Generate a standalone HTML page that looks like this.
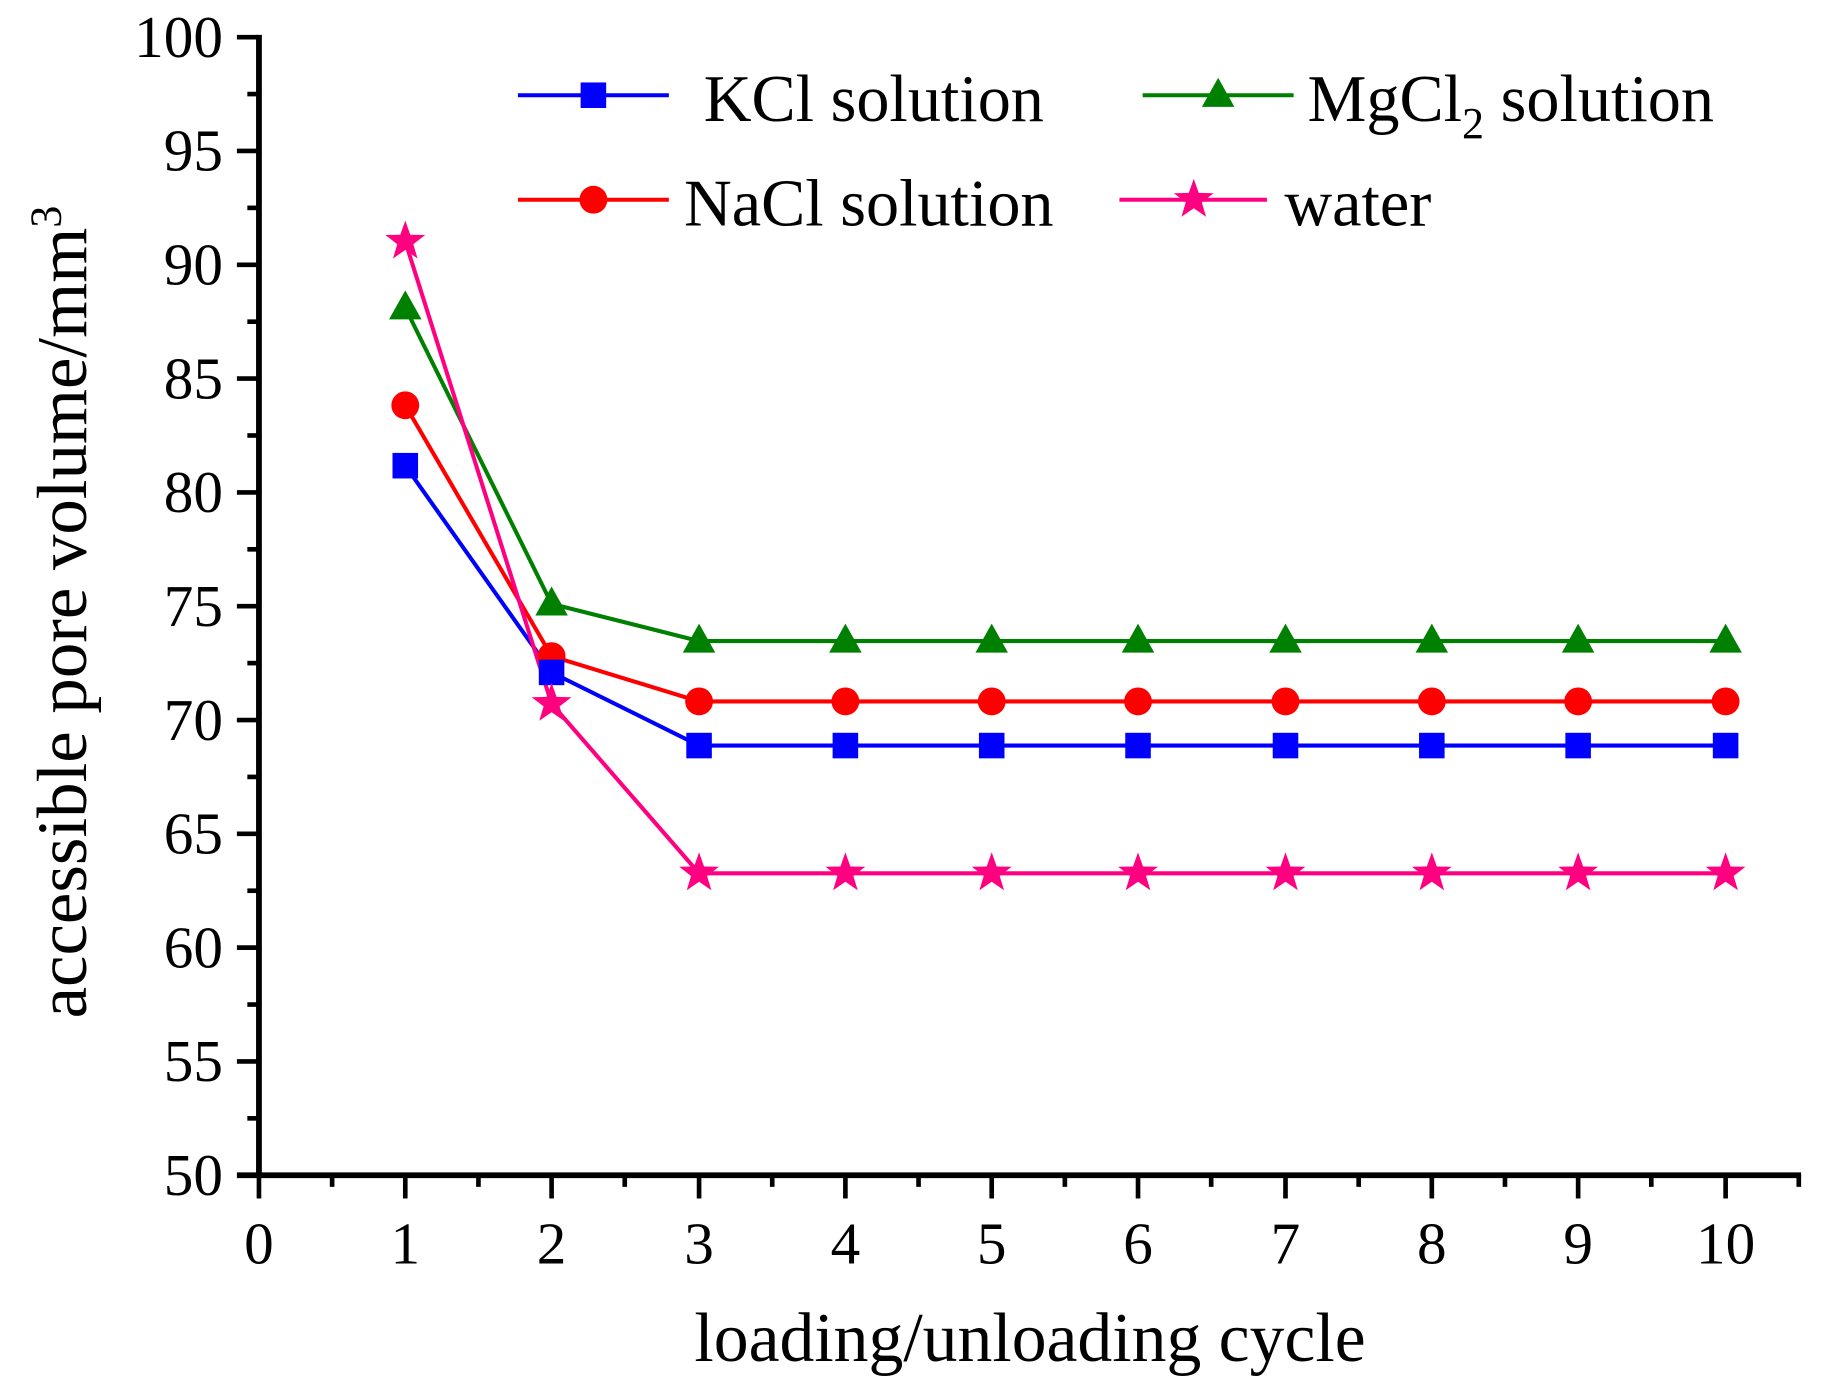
<!DOCTYPE html>
<html><head><meta charset="utf-8"><style>html,body{margin:0;padding:0;background:#fff;overflow:hidden}svg{display:block}</style></head>
<body>
<svg width="1822" height="1393" viewBox="-1 -2 1569 1199.5" preserveAspectRatio="none" xmlns="http://www.w3.org/2000/svg" font-family="Liberation Serif, serif">
<defs>
<rect id="sq" x="-11" y="-11" width="22" height="22" fill="#0000ff"/>
<circle id="ci" r="12" fill="#ff0000"/>
<polygon id="tr" points="0,-15 14,10 -14,10" fill="#008000"/>
<polygon id="st" points="0,-18 4.3,-5.9 17.1,-5.6 6.9,2.3 10.6,14.6 0,7.3 -10.6,14.6 -6.9,2.3 -17.1,-5.6 -4.3,-5.9" fill="#ff0080"/>
</defs>
<g stroke="#000" stroke-width="5" fill="none">
<line x1="222" y1="28" x2="222" y2="1012"/>
<line x1="203" y1="1010" x2="1550" y2="1010"/>
</g>
<g stroke="#000" stroke-width="4">
<line x1="203" y1="30" x2="222" y2="30"/><line x1="212" y1="79" x2="222" y2="79"/>
<line x1="203" y1="128" x2="222" y2="128"/><line x1="212" y1="177" x2="222" y2="177"/>
<line x1="203" y1="226" x2="222" y2="226"/><line x1="212" y1="275" x2="222" y2="275"/>
<line x1="203" y1="324" x2="222" y2="324"/><line x1="212" y1="373" x2="222" y2="373"/>
<line x1="203" y1="422" x2="222" y2="422"/><line x1="212" y1="471" x2="222" y2="471"/>
<line x1="203" y1="520" x2="222" y2="520"/><line x1="212" y1="569" x2="222" y2="569"/>
<line x1="203" y1="618" x2="222" y2="618"/><line x1="212" y1="667" x2="222" y2="667"/>
<line x1="203" y1="716" x2="222" y2="716"/><line x1="212" y1="765" x2="222" y2="765"/>
<line x1="203" y1="814" x2="222" y2="814"/><line x1="212" y1="863" x2="222" y2="863"/>
<line x1="203" y1="912" x2="222" y2="912"/><line x1="212" y1="961" x2="222" y2="961"/>
<line x1="222" y1="1010" x2="222" y2="1030"/><line x1="285" y1="1010" x2="285" y2="1020"/>
<line x1="348" y1="1010" x2="348" y2="1030"/><line x1="411" y1="1010" x2="411" y2="1020"/>
<line x1="474" y1="1010" x2="474" y2="1030"/><line x1="537" y1="1010" x2="537" y2="1020"/>
<line x1="601" y1="1010" x2="601" y2="1030"/><line x1="664" y1="1010" x2="664" y2="1020"/>
<line x1="727" y1="1010" x2="727" y2="1030"/><line x1="790" y1="1010" x2="790" y2="1020"/>
<line x1="853" y1="1010" x2="853" y2="1030"/><line x1="916" y1="1010" x2="916" y2="1020"/>
<line x1="979" y1="1010" x2="979" y2="1030"/><line x1="1042" y1="1010" x2="1042" y2="1020"/>
<line x1="1106" y1="1010" x2="1106" y2="1030"/><line x1="1169" y1="1010" x2="1169" y2="1020"/>
<line x1="1232" y1="1010" x2="1232" y2="1030"/><line x1="1295" y1="1010" x2="1295" y2="1020"/>
<line x1="1358" y1="1010" x2="1358" y2="1030"/><line x1="1421" y1="1010" x2="1421" y2="1020"/>
<line x1="1485" y1="1010" x2="1485" y2="1030"/><line x1="1548" y1="1010" x2="1548" y2="1020"/>
</g>
<g font-size="51" text-anchor="end" fill="#000">
<text x="191" y="47">100</text><text x="191" y="145">95</text><text x="191" y="243">90</text>
<text x="191" y="341">85</text><text x="191" y="439">80</text><text x="191" y="537">75</text>
<text x="191" y="635">70</text><text x="191" y="733">65</text><text x="191" y="831">60</text>
<text x="191" y="929">55</text><text x="191" y="1027">50</text>
</g>
<g font-size="51" text-anchor="middle" fill="#000">
<text x="222" y="1086">0</text><text x="348" y="1086">1</text><text x="474" y="1086">2</text>
<text x="601" y="1086">3</text><text x="727" y="1086">4</text><text x="853" y="1086">5</text>
<text x="979" y="1086">6</text><text x="1106" y="1086">7</text><text x="1232" y="1086">8</text>
<text x="1358" y="1086">9</text><text x="1485" y="1086">10</text>
</g>
<text x="886" y="1170" font-size="60" text-anchor="middle">loading/unloading cycle</text>
<text transform="translate(73,525) rotate(-90)" font-size="61" text-anchor="middle">accessible pore volume/mm<tspan dy="-22" font-size="38">3</tspan></text>
<g fill="none" stroke-width="3.5">
<polyline stroke="#008000" points="348,263 474,518 601,550 727,550 853,550 979,550 1106,550 1232,550 1358,550 1485,550"/>
<polyline stroke="#ff0000" points="348,347 474,563 601,602 727,602 853,602 979,602 1106,602 1232,602 1358,602 1485,602"/>
<polyline stroke="#0000ff" points="348,399 474,577 601,640 727,640 853,640 979,640 1106,640 1232,640 1358,640 1485,640"/>
<polyline stroke="#ff0080" points="348,206 474,604 601,750 727,750 853,750 979,750 1106,750 1232,750 1358,750 1485,750"/>
</g>
<g>
<use href="#tr" x="348" y="263"/><use href="#tr" x="474" y="518"/><use href="#tr" x="601" y="550"/><use href="#tr" x="727" y="550"/><use href="#tr" x="853" y="550"/><use href="#tr" x="979" y="550"/><use href="#tr" x="1106" y="550"/><use href="#tr" x="1232" y="550"/><use href="#tr" x="1358" y="550"/><use href="#tr" x="1485" y="550"/>
<use href="#ci" x="348" y="347"/><use href="#ci" x="474" y="563"/><use href="#ci" x="601" y="602"/><use href="#ci" x="727" y="602"/><use href="#ci" x="853" y="602"/><use href="#ci" x="979" y="602"/><use href="#ci" x="1106" y="602"/><use href="#ci" x="1232" y="602"/><use href="#ci" x="1358" y="602"/><use href="#ci" x="1485" y="602"/>
<use href="#sq" x="348" y="399"/><use href="#sq" x="474" y="577"/><use href="#sq" x="601" y="640"/><use href="#sq" x="727" y="640"/><use href="#sq" x="853" y="640"/><use href="#sq" x="979" y="640"/><use href="#sq" x="1106" y="640"/><use href="#sq" x="1232" y="640"/><use href="#sq" x="1358" y="640"/><use href="#sq" x="1485" y="640"/>
<use href="#st" x="348" y="206"/><use href="#st" x="474" y="604"/><use href="#st" x="601" y="750"/><use href="#st" x="727" y="750"/><use href="#st" x="853" y="750"/><use href="#st" x="979" y="750"/><use href="#st" x="1106" y="750"/><use href="#st" x="1232" y="750"/><use href="#st" x="1358" y="750"/><use href="#st" x="1485" y="750"/>
</g>
<g stroke-width="3.5">
<line x1="445" y1="80" x2="575" y2="80" stroke="#0000ff"/><use href="#sq" x="510" y="80"/>
<line x1="983" y1="80" x2="1113" y2="80" stroke="#008000"/><use href="#tr" x="1048" y="80"/>
<line x1="445" y1="170" x2="575" y2="170" stroke="#ff0000"/><use href="#ci" x="510" y="170"/>
<line x1="963" y1="170" x2="1090" y2="170" stroke="#ff0080"/><use href="#st" x="1027" y="170"/>
</g>
<g font-size="57" fill="#000">
<text x="605" y="102">KCl solution</text>
<text x="1125" y="102">MgCl<tspan dy="15" font-size="38">2</tspan><tspan dy="-15"> solution</tspan></text>
<text x="588" y="192">NaCl solution</text>
<text x="1105" y="192">water</text>
</g>
</svg>
</body></html>
